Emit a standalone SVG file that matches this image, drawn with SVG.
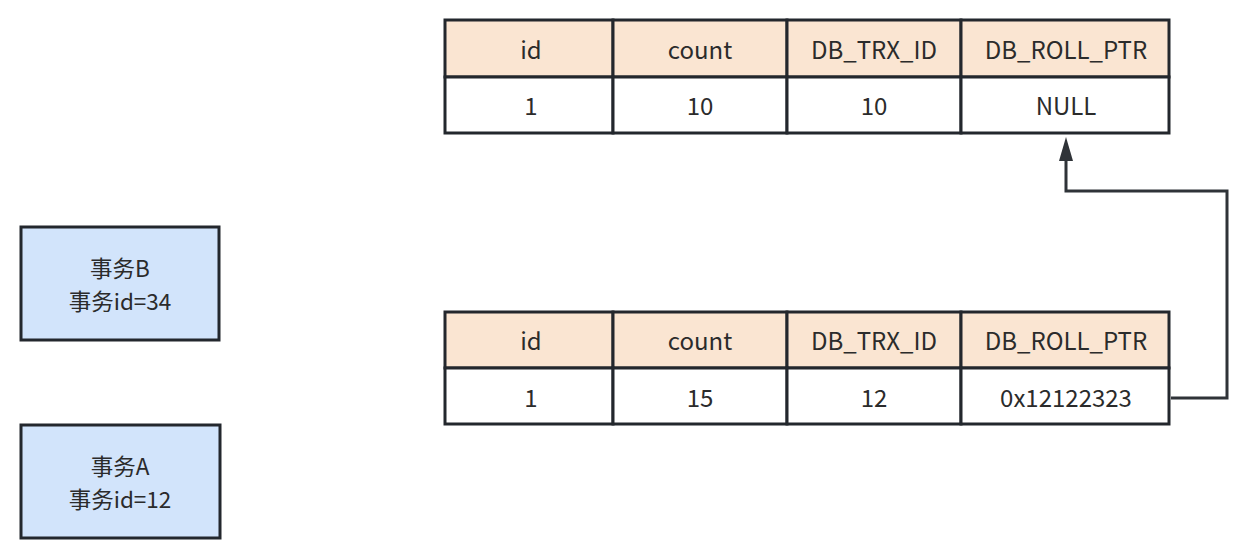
<svg xmlns="http://www.w3.org/2000/svg" width="1248" height="547" viewBox="0 0 1248 547">
<defs>
<style>
.hd{fill:#fae5d2;stroke:#23272d;stroke-width:3}
.cl{fill:#ffffff;stroke:#23272d;stroke-width:3}
.bx{fill:#d2e4fb;stroke:#23272d;stroke-width:3}
.t{font-family:"Noto Sans CJK SC","Open Sans",sans-serif;font-size:24px;fill:#2b2b2b;text-anchor:middle;dominant-baseline:central}
.t2{font-family:"Noto Sans CJK SC","Open Sans",sans-serif;font-size:22.5px;fill:#2b2b2b;text-anchor:middle;dominant-baseline:central}
.ln{fill:none;stroke:#2f3338;stroke-width:3}
</style>
<marker id="ah" markerWidth="24" markerHeight="14" refX="1" refY="7" orient="auto" markerUnits="userSpaceOnUse" viewBox="0 0 24 14">
<path d="M0,0 L24,7 L0,14 Z" fill="#2f3338"/>
</marker>
</defs>
<rect width="1248" height="547" fill="#ffffff"/>
<g id="table1">
<rect class="hd" x="445" y="20" width="168" height="57"/>
<rect class="hd" x="613" y="20" width="174" height="57"/>
<rect class="hd" x="787" y="20" width="174" height="57"/>
<rect class="hd" x="961" y="20" width="208" height="57"/>
<rect class="cl" x="445" y="77" width="168" height="56"/>
<rect class="cl" x="613" y="77" width="174" height="56"/>
<rect class="cl" x="787" y="77" width="174" height="56"/>
<rect class="cl" x="961" y="77" width="208" height="56"/>
<text class="t" x="531" y="48">id</text>
<text class="t" x="700" y="48">count</text>
<text class="t" x="874" y="48">DB_TRX_ID</text>
<text class="t" x="1066" y="48">DB_ROLL_PTR</text>
<text class="t" x="531" y="104">1</text>
<text class="t" x="700" y="104">10</text>
<text class="t" x="874" y="104">10</text>
<text class="t" x="1066" y="104">NULL</text>
</g>
<g id="table2">
<rect class="hd" x="445" y="312" width="168" height="56"/>
<rect class="hd" x="613" y="312" width="174" height="56"/>
<rect class="hd" x="787" y="312" width="174" height="56"/>
<rect class="hd" x="961" y="312" width="208" height="56"/>
<rect class="cl" x="445" y="368" width="168" height="56"/>
<rect class="cl" x="613" y="368" width="174" height="56"/>
<rect class="cl" x="787" y="368" width="174" height="56"/>
<rect class="cl" x="961" y="368" width="208" height="56"/>
<text class="t" x="531" y="339">id</text>
<text class="t" x="700" y="339">count</text>
<text class="t" x="874" y="339">DB_TRX_ID</text>
<text class="t" x="1066" y="339">DB_ROLL_PTR</text>
<text class="t" x="531" y="396">1</text>
<text class="t" x="700" y="396">15</text>
<text class="t" x="874" y="396">12</text>
<text class="t" x="1066" y="396">0x12122323</text>
</g>
<g id="txB">
<rect class="bx" x="21" y="227" width="198" height="113"/>
<text class="t2" x="120" y="267">事务B</text>
<text class="t2" x="120" y="300">事务id=34</text>
</g>
<g id="txA">
<rect class="bx" x="21" y="425" width="199" height="113"/>
<text class="t2" x="120" y="465">事务A</text>
<text class="t2" x="120" y="498">事务id=12</text>
</g>
<g id="connectors">
<path class="ln" d="M1171,398 L1227,398 L1227,191 L1066,191 L1066,160" marker-end="url(#ah)"/>
</g>
</svg>
